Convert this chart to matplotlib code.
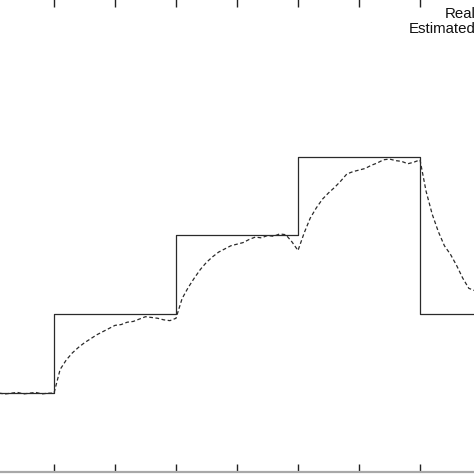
import matplotlib
matplotlib.use("Agg")
import matplotlib.pyplot as plt

# step input (real) : change times and levels
step_t = [0, 10, 30, 50, 70, 80]
step_v = [1, 2, 3, 4, 2, 2]

# estimated response, read every 1 s from the picture
est_t = list(range(0, 81))
est_v = [1.00, 1.00, 0.99, 1.00, 1.01, 0.99, 1.00, 1.01, 0.99, 1.00,
         1.00, 1.30, 1.42, 1.51, 1.58, 1.64, 1.69, 1.74, 1.78, 1.82,
         1.86, 1.87, 1.90, 1.91, 1.94, 1.97, 1.96, 1.95, 1.93, 1.92,
         1.95, 2.20, 2.34, 2.46, 2.57, 2.66, 2.73, 2.79, 2.83, 2.87,
         2.89, 2.91, 2.95, 2.98, 2.97, 3.00, 2.99, 3.02, 3.01, 2.92,
         2.81, 3.03, 3.22, 3.35, 3.46, 3.54, 3.61, 3.69, 3.78, 3.81,
         3.83, 3.85, 3.89, 3.92, 3.96, 3.97, 3.95, 3.94, 3.91, 3.93,
         3.96, 3.56, 3.27, 3.05, 2.87, 2.76, 2.62, 2.46, 2.33, 2.30,
         2.25]

xticks = [0, 10, 20, 30, 40, 50, 60, 70, 80]
labels = ["Real", "Estimated"]

W = 474.0
fig = plt.figure(figsize=(4.74, 4.74), dpi=100)
ax = fig.add_axes([-7 / W, 2 / W, 488 / W, 473 / W])

ax.step(step_t, step_v, where="post", color="#2a2a2a", lw=0.9)
ax.plot(est_t, est_v, color="#2a2a2a", lw=0.9, dashes=(3, 2))

ax.set_xlim(0, 80)
ax.set_ylim(0, 6)
ax.set_xticks(xticks)
ax.set_yticks([])
ax.tick_params(axis="x", direction="in", length=6, width=1, color="#222222",
               top=True, bottom=True, labelbottom=False)
ax.spines["top"].set_visible(False)
ax.spines["bottom"].set_color("#a8a8a8")
ax.spines["bottom"].set_linewidth(1.6)

# legend labels, cut by the right edge as in the source image
fig.text(475.5 / W, 1 - 18 / W, labels[0], ha="right", va="baseline",
         fontsize=10.8, family="Liberation Sans", color="#111111")
fig.text(475.5 / W, 1 - 33 / W, labels[1], ha="right", va="baseline",
         fontsize=10.8, family="Liberation Sans", color="#111111")

fig.savefig("out.png", dpi=100)
